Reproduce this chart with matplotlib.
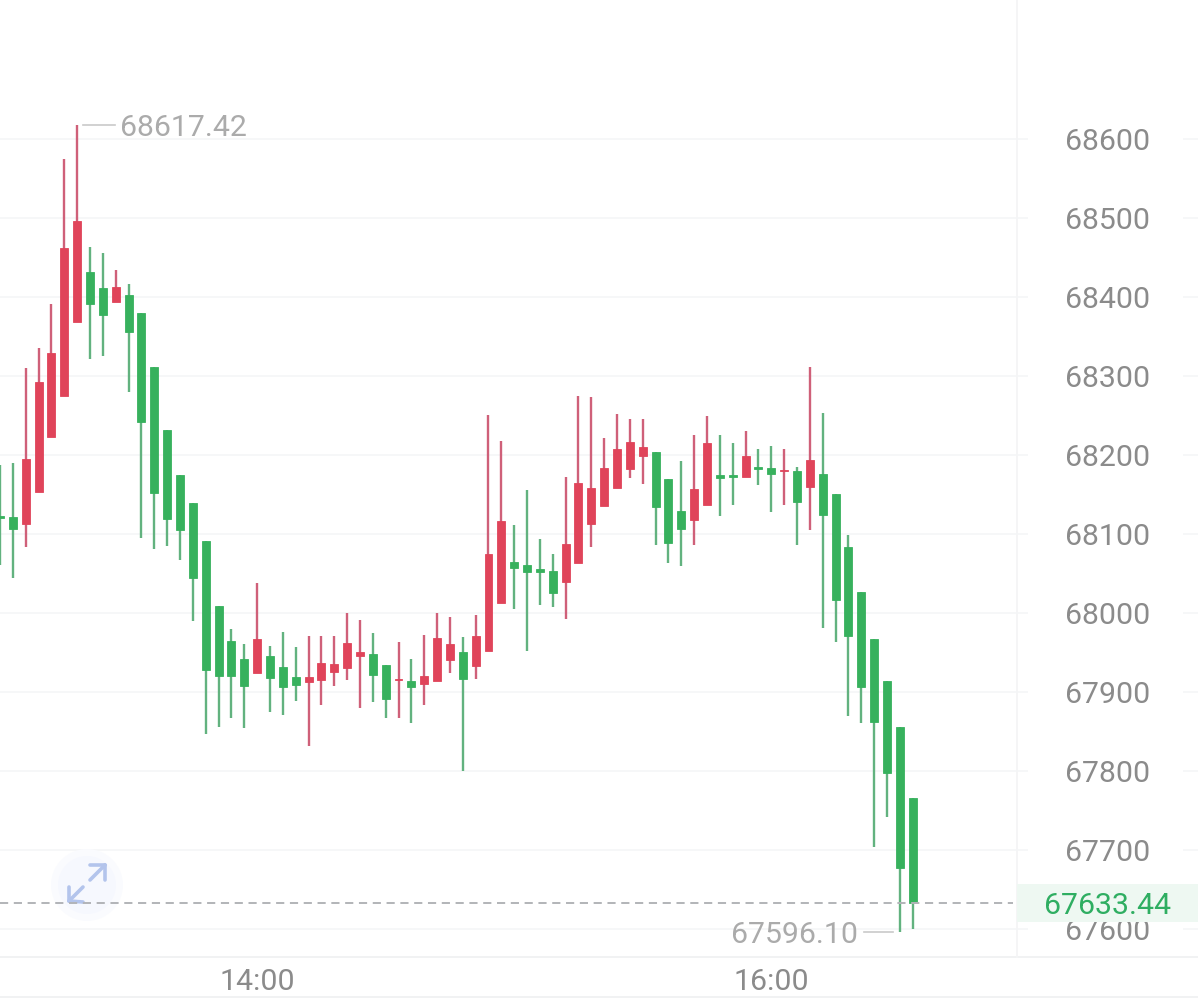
import matplotlib
matplotlib.use("Agg")
import matplotlib.pyplot as plt
from matplotlib.patches import Circle, Rectangle
from matplotlib.transforms import Affine2D

plt.rcParams["font.family"] = "Roboto"

# 3 minute candles, prices
opens = [68123, 68122, 68113, 68153, 68223, 68275, 68368, 68432, 68411, 68394,
         68403, 68380, 68311, 68232, 68175, 68139, 68091, 68009, 67965, 67942,
         67924, 67946, 67932, 67919, 67913, 67915, 67925, 67930, 67946, 67948,
         67934, 67915, 67914, 67910, 67914, 67941, 67951, 67933, 67952, 68013,
         68065, 68061, 68056, 68053, 68039, 68063, 68113, 68135, 68158, 68182,
         68199, 68204, 68170, 68129, 68118, 68137, 68175, 68175, 68172, 68185,
         68184, 68180, 68180, 68159, 68176, 68151, 68084, 68027, 67967, 67914,
         67856, 67766]
closes = [68120, 68106, 68195, 68292, 68329, 68462, 68496, 68391, 68377, 68413,
          68356, 68242, 68152, 68119, 68105, 68044, 67928, 67920, 67920, 67908,
          67967, 67918, 67906, 67909, 67919, 67937, 67935, 67962, 67951, 67922,
          67891, 67916, 67906, 67920, 67968, 67961, 67916, 67971, 68075, 68116,
          68057, 68052, 68052, 68025, 68087, 68165, 68158, 68184, 68208, 68216,
          68210, 68134, 68089, 68106, 68157, 68215, 68171, 68172, 68199, 68182,
          68176, 68181, 68141, 68194, 68124, 68016, 67971, 67906, 67862, 67798,
          67677, 67633.44]
highs = [68187, 68190, 68310, 68335, 68391, 68575, 68617.42, 68463, 68456, 68434,
         68416, 68380, 68311, 68232, 68175, 68139, 68091, 68009, 67980, 67961,
         68038, 67958, 67976, 67957, 67971, 67971, 67971, 68000, 67991, 67975,
         67934, 67963, 67942, 67972, 68000, 67995, 67970, 67997, 68251, 68218,
         68111, 68156, 68094, 68075, 68172, 68275, 68273, 68222, 68252, 68246,
         68246, 68204, 68170, 68192, 68225, 68249, 68225, 68215, 68230, 68208,
         68211, 68208, 68185, 68311, 68253, 68151, 68099, 68027, 67967, 67914,
         67856, 67766]
lows = [68061, 68044, 68084, 68153, 68223, 68275, 68368, 68322, 68325, 68394,
        68280, 68095, 68081, 68085, 68067, 67990, 67847, 67856, 67867, 67854,
        67924, 67875, 67871, 67889, 67832, 67884, 67908, 67915, 67880, 67887,
        67867, 67867, 67861, 67884, 67914, 67924, 67800, 67916, 67952, 68013,
        68005, 67952, 68010, 68008, 67992, 68063, 68084, 68135, 68158, 68171,
        68163, 68086, 68063, 68059, 68086, 68137, 68123, 68137, 68172, 68162,
        68128, 68137, 68086, 68105, 67981, 67963, 67870, 67861, 67704, 67742,
        67596.10, 67600]

price_ticks = [67600, 67700, 67800, 67900, 68000, 68100, 68200, 68300, 68400, 68500, 68600]
time_ticks = [20, 60]
time_labels = ["14:00", "16:00"]
last_price = 67633.44

GREEN = "#37b15d"
RED = "#e0445a"
GREEN_WICK = "#62b27f"
RED_WICK = "#cf6079"
STEP = 12.855  # pixels per candle

fig = plt.figure(figsize=(11.98, 9.99), dpi=100)
ax = fig.add_axes([0, 0, 1, 1])
for s in ax.spines.values():
    s.set_visible(False)
ax.set_xlim(0, 1198 / STEP)
ax.set_ylim(68776 - 999 * 1.26582, 68776)

# pixels from the top left corner, for the frame and the icon
px = Affine2D().scale(1, -1).translate(0, 999)

# price axis sits inside the figure on the right
ax.yaxis.tick_right()
ax.set_yticks(price_ticks)
ax.set_yticklabels([str(p) for p in price_ticks])
ax.set_xticks(time_ticks)
ax.set_xticklabels(time_labels)
ax.tick_params(axis="y", length=0, pad=-95.6, labelsize=21.8, labelcolor="#8b8b8b")
ax.tick_params(axis="x", length=0, pad=-22.5, labelsize=21.8, labelcolor="#8b8b8b")
ax.set_axisbelow(True)

# grid breaks around the price labels
ax.hlines(price_ticks, 0, 1028 / STEP, colors="#f5f6f7", linewidth=1.2, zorder=1)
ax.hlines(price_ticks, 1183 / STEP, 1198 / STEP, colors="#f5f6f7", linewidth=1.2, zorder=1)

# frame lines
ax.plot([0, 1198], [957, 957], color="#f0f1f2", lw=1.3, transform=px, zorder=1)
ax.plot([0, 1198], [997, 997], color="#f0f1f2", lw=1.3, transform=px, zorder=1)
ax.plot([1017, 1017], [0, 957], color="#f4f5f6", lw=1.3, transform=px, zorder=1)

# candles
x = list(range(len(opens)))
bottoms = [min(o, c) for o, c in zip(opens, closes)]
sizes = [abs(o - c) for o, c in zip(opens, closes)]
body_colors = [RED if c >= o else GREEN for o, c in zip(opens, closes)]
wick_colors = [RED_WICK if c >= o else GREEN_WICK for o, c in zip(opens, closes)]
ax.vlines(x, lows, highs, colors=wick_colors, linewidth=1.7, zorder=2)
ax.bar(x, sizes, bottom=bottoms, width=0.62, color=body_colors, edgecolor=body_colors,
       linewidth=0.6, zorder=3)

# expand icon
ax.add_patch(Circle((87, 885), 36, transform=px, facecolor="#fafbfe", edgecolor="none", zorder=3))
ax.add_patch(Circle((87, 885), 29, transform=px, facecolor="#f6f8fe", edgecolor="none", zorder=3))
icon_lines = [([69, 83], [901, 887]), ([69, 69], [887, 901]), ([69, 83], [901, 902]),
              ([105, 90], [865, 880]), ([105, 105], [865, 880]), ([105, 90], [865, 865])]
for lx, ly in icon_lines:
    ax.plot(lx, ly, color="#b3c4ec", lw=2.6, transform=px, zorder=4, solid_capstyle="round")

# last price line and tag
ax.hlines(last_price, 0, 1013 / STEP, colors="#b2b4b8", linewidth=1.4,
          linestyles=(0, (4.2, 2.9)), zorder=4)
ax.add_patch(Rectangle((1017, 884), 181, 38, transform=px, facecolor="#eef8f2",
                       edgecolor="none", zorder=5))
ax.text(1107, 903, f"{last_price:.2f}", transform=px, ha="center", va="center_baseline",
        fontsize=21.8, color="#2fae62", zorder=6)

# high and low marks
ax.plot([83, 115], [125, 125], color="#c9c9c9", lw=1.2, transform=px, zorder=4)
ax.annotate(f"{max(highs):.2f}", xy=(6, max(highs)), xytext=(43, 0), textcoords="offset pixels",
            ha="left", va="center_baseline", fontsize=21.8, color="#ababab", zorder=4)
ax.plot([864, 893], [932, 932], color="#c9c9c9", lw=1.2, transform=px, zorder=4)
ax.annotate(f"{min(lows):.2f}", xy=(70, min(lows)), xytext=(-42, 0), textcoords="offset pixels",
            ha="right", va="center_baseline", fontsize=21.8, color="#ababab", zorder=4)

fig.savefig("out.png", dpi=100, facecolor="white")
